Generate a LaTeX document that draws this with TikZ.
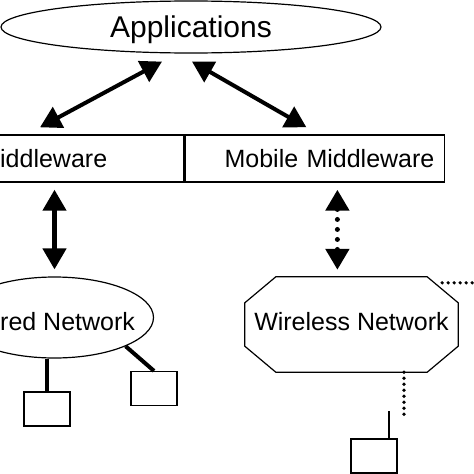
\documentclass[tikz,border=0pt]{standalone}
\usepackage{fontspec}
\setmainfont{Liberation Sans}
\usepackage{tikz}
\usetikzlibrary{arrows.meta, shapes.geometric, positioning}
\tikzset{
  bigTip/.style={>={Triangle[length=21pt,width=23pt]}},
  labelFont/.style={font=\fontsize{25}{30}\selectfont},
}

\begin{document}
\begin{tikzpicture}[x=1pt, y=-1pt,
  cell/.style={draw, line width=1.4pt, minimum width=259pt, minimum height=47pt, inner sep=0pt},
  host/.style={draw, line width=1.2pt, minimum width=46pt, minimum height=34pt, inner sep=0pt},
  solidLink/.style={<->, bigTip, line width=4.5pt, shorten <=7pt, shorten >=7pt},
  dottedLink/.style={<->, bigTip, line width=5pt, line cap=round, dash pattern=on 0pt off 10pt, shorten <=7pt, shorten >=7pt},
  radioLink/.style={line width=3.6pt, line cap=round, dash pattern=on 0pt off 6pt},
  cable/.style={line width=4pt}]
\useasboundingbox (0,0) rectangle (474,474);
\clip (0,0) rectangle (474,474);

% layers
\node[draw, ellipse, line width=1.2pt, minimum width=380pt, minimum height=52pt, inner sep=0pt, text depth=0pt, font=\fontsize{30}{36}\selectfont] (app) at (191,27) {Applications};
\node[cell] (mwFixed) at (54.5,158.5) {};
\node[cell, right=0pt of mwFixed, labelFont, text width=239pt, align=right] (mwMobile) {Mobile Middleware};
\node[labelFont, anchor=west, inner sep=0pt] (mwFixedText) at (0,158.5) {iddleware};

% networks
\node[draw, ellipse, line width=1.2pt, minimum width=198pt, minimum height=81pt, inner sep=0pt] (netWired) at (54.5,317.5) {};
\node[labelFont, anchor=west, inner sep=0pt] (netWiredText) at (0,322) {red Network};
\node[labelFont, minimum width=213pt, minimum height=95pt, inner sep=0pt, text depth=6pt] (netWireless) at (351.5,324.5) {Wireless Network};
\draw[line width=1.2pt] ([xshift=31pt]netWireless.north west) -- ([xshift=-31pt]netWireless.north east)
  -- ([yshift=-26pt]netWireless.north east) -- ([yshift=26pt]netWireless.south east)
  -- ([xshift=-31pt]netWireless.south east) -- ([xshift=31pt]netWireless.south west)
  -- ([yshift=26pt]netWireless.south west) -- ([yshift=-26pt]netWireless.north west) -- cycle;

% hosts
\node[host] (hostA) at (47,409) {};
\node[host] (hostB) at (154,388.5) {};
\node[host] (hostC) at (374,456) {};

% links
\draw[solidLink, line width=4pt, shorten <=0pt, shorten >=0pt] ([shift={(-14.5,-7)}]mwFixed.north) -- ([shift={(-29,8)}]app.south);
\draw[solidLink, line width=4pt, shorten <=0pt, shorten >=0pt] ([shift={(1,8)}]app.south) -- ([shift={(-8.5,-7)}]mwMobile.north);
\draw[solidLink] (mwFixed.south) -- (netWired.north);
\draw[dottedLink] ([xshift=22.5pt]mwMobile.south) -- ([xshift=22.5pt]mwMobile.south |- netWireless.north);
\draw[cable] (hostA.north) -- (hostA.north |- netWired.south);
\draw[cable] (hostB.north) -- (netWired.-22);
\draw[radioLink] ([xshift=52.5pt]netWireless.south) -- ++(0,47);
\draw[radioLink] ([shift={(-16,6)}]netWireless.north east) -- ++(40,0);
\draw[line width=1.2pt] ([xshift=15pt]hostC.north) -- ++(0,-27);
\end{tikzpicture}
\end{document}
